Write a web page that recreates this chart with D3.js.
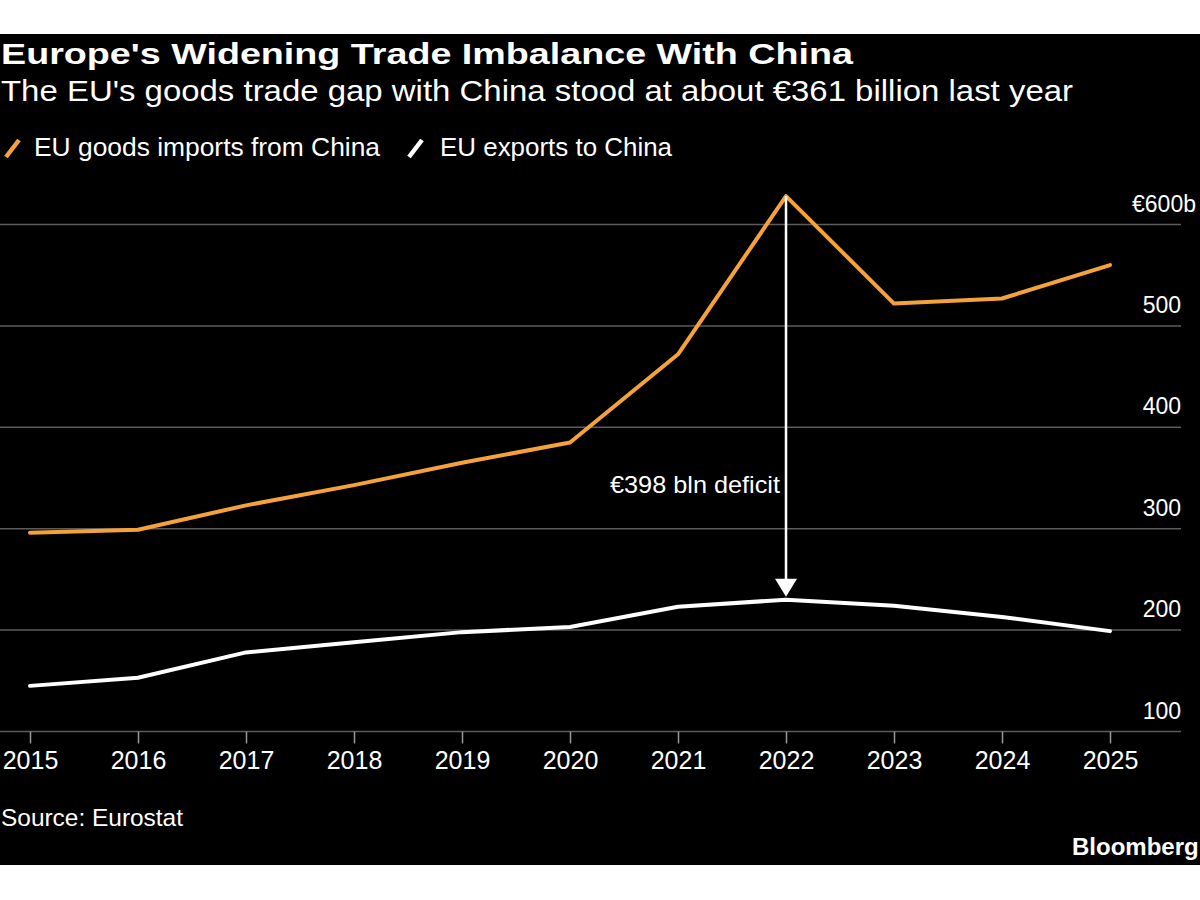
<!DOCTYPE html>
<html>
<head>
<meta charset="utf-8">
<script src="https://cdn.jsdelivr.net/npm/d3@7"></script>
<style>
  body { margin: 0; background: #fff; }
  text { font-family: "Liberation Sans", "DejaVu Sans", sans-serif; fill: #fff; }
</style>
</head>
<body>
<div id="chart"></div>
<script>
// data
var years = [2015, 2016, 2017, 2018, 2019, 2020, 2021, 2022, 2023, 2024, 2025];
var imports = [296, 299, 323, 343, 365, 385, 472, 628, 522, 527, 560];
var exports = [145, 153, 178, 188, 198, 203, 223, 230, 224, 213, 199];
var yTicks = [100, 200, 300, 400, 500, 600];
var seriesNames = ["EU goods imports from China", "EU exports to China"];

var orange = "#f5a23b";

var svg = d3.select("#chart")
    .append("svg")
      .attr("width", 1200)
      .attr("height", 900);

svg.append("rect").attr("x", 0).attr("y", 0).attr("width", 1200).attr("height", 900).attr("fill", "#fff");
svg.append("rect").attr("x", 0).attr("y", 34).attr("width", 1200).attr("height", 831).attr("fill", "#000");

// fit a text to a width
function fit(sel, w) {
    var n = sel.node();
    if (Math.abs(n.getComputedTextLength() - w) > 2) {
        sel.attr("textLength", w).attr("lengthAdjust", "spacingAndGlyphs");
    }
}

// title block
fit(svg.append("text").attr("x", 1).attr("y", 64)
    .style("font-size", "29px").style("font-weight", "bold")
    .text("Europe's Widening Trade Imbalance With China"), 852);
fit(svg.append("text").attr("x", 1).attr("y", 101)
    .style("font-size", "29px")
    .text("The EU's goods trade gap with China stood at about €361 billion last year"), 1072);

// legend
svg.append("line").attr("x1", 6).attr("y1", 157).attr("x2", 19).attr("y2", 140)
    .attr("stroke", orange).attr("stroke-width", 4.5);
fit(svg.append("text").attr("x", 34).attr("y", 156).style("font-size", "25px").text(seriesNames[0]), 346);
svg.append("line").attr("x1", 409).attr("y1", 157).attr("x2", 422).attr("y2", 140)
    .attr("stroke", "#fff").attr("stroke-width", 4.5);
fit(svg.append("text").attr("x", 440).attr("y", 156).style("font-size", "25px").text(seriesNames[1]), 232);

// scales
var x = d3.scaleLinear().domain([2015, 2025]).range([30, 1110]);
var y = d3.scaleLinear().domain([100, 600]).range([731.5, 224.5]);

// gridlines
svg.selectAll("grid")
    .data(yTicks)
    .enter()
    .append("line")
      .attr("x1", 0)
      .attr("x2", 1181)
      .attr("y1", function(d) { return y(d); })
      .attr("y2", function(d) { return y(d); })
      .attr("stroke", "#5c5c5c")
      .attr("stroke-width", 1.5);

// y labels
svg.selectAll("ylab")
    .data(yTicks)
    .enter()
    .append("text")
      .attr("x", function(d) { return d == 600 ? 1196 : 1181; })
      .attr("y", function(d) { return y(d) - 13; })
      .attr("text-anchor", "end")
      .style("font-size", "23px")
      .text(function(d) { return d == 600 ? "€600b" : d; });

// x axis
var xAxis = svg.append("g")
    .attr("transform", "translate(0," + y(100) + ")")
    .call(d3.axisBottom(x).tickValues(years).tickFormat(d3.format("d")).tickSize(12).tickPadding(8));
xAxis.select(".domain").remove();
xAxis.selectAll("line").attr("stroke", "#9a9a9a").attr("stroke-width", 1.5);
xAxis.selectAll("text")
    .style("font-size", "25px")
    .style("font-family", "Liberation Sans, DejaVu Sans, sans-serif")
    .attr("fill", "#fff");

// lines
var line = d3.line()
    .x(function(d, i) { return x(years[i]); })
    .y(function(d) { return y(d); });

svg.append("path")
    .datum(exports)
    .attr("d", line)
    .attr("fill", "none")
    .attr("stroke", "#fff")
    .attr("stroke-width", 4)
    .attr("stroke-linejoin", "round")
    .attr("stroke-linecap", "round");

svg.append("path")
    .datum(imports)
    .attr("d", line)
    .attr("fill", "none")
    .attr("stroke", orange)
    .attr("stroke-width", 4)
    .attr("stroke-linejoin", "round")
    .attr("stroke-linecap", "round");

// deficit annotation
var i22 = years.indexOf(2022);
var ax = x(2022), yTop = y(imports[i22]), yTip = y(exports[i22]) - 3;
svg.append("line")
    .attr("x1", ax).attr("x2", ax)
    .attr("y1", yTop).attr("y2", yTip - 15)
    .attr("stroke", "#fff").attr("stroke-width", 2.5);
svg.append("path")
    .attr("d", "M" + (ax - 11) + "," + (yTip - 18) + "L" + (ax + 11) + "," + (yTip - 18) + "L" + ax + "," + yTip + "Z")
    .attr("fill", "#fff");
fit(svg.append("text")
    .attr("x", ax - 176)
    .attr("y", y(335))
    .style("font-size", "24px")
    .text("€" + (imports[i22] - exports[i22]) + " bln deficit"), 170);

// footer
fit(svg.append("text").attr("x", 1).attr("y", 826).style("font-size", "24px").text("Source: Eurostat"), 182);
fit(svg.append("text").attr("x", 1072).attr("y", 855)
    .style("font-size", "24px").style("font-weight", "bold").text("Bloomberg"), 126);
</script>
</body>
</html>
